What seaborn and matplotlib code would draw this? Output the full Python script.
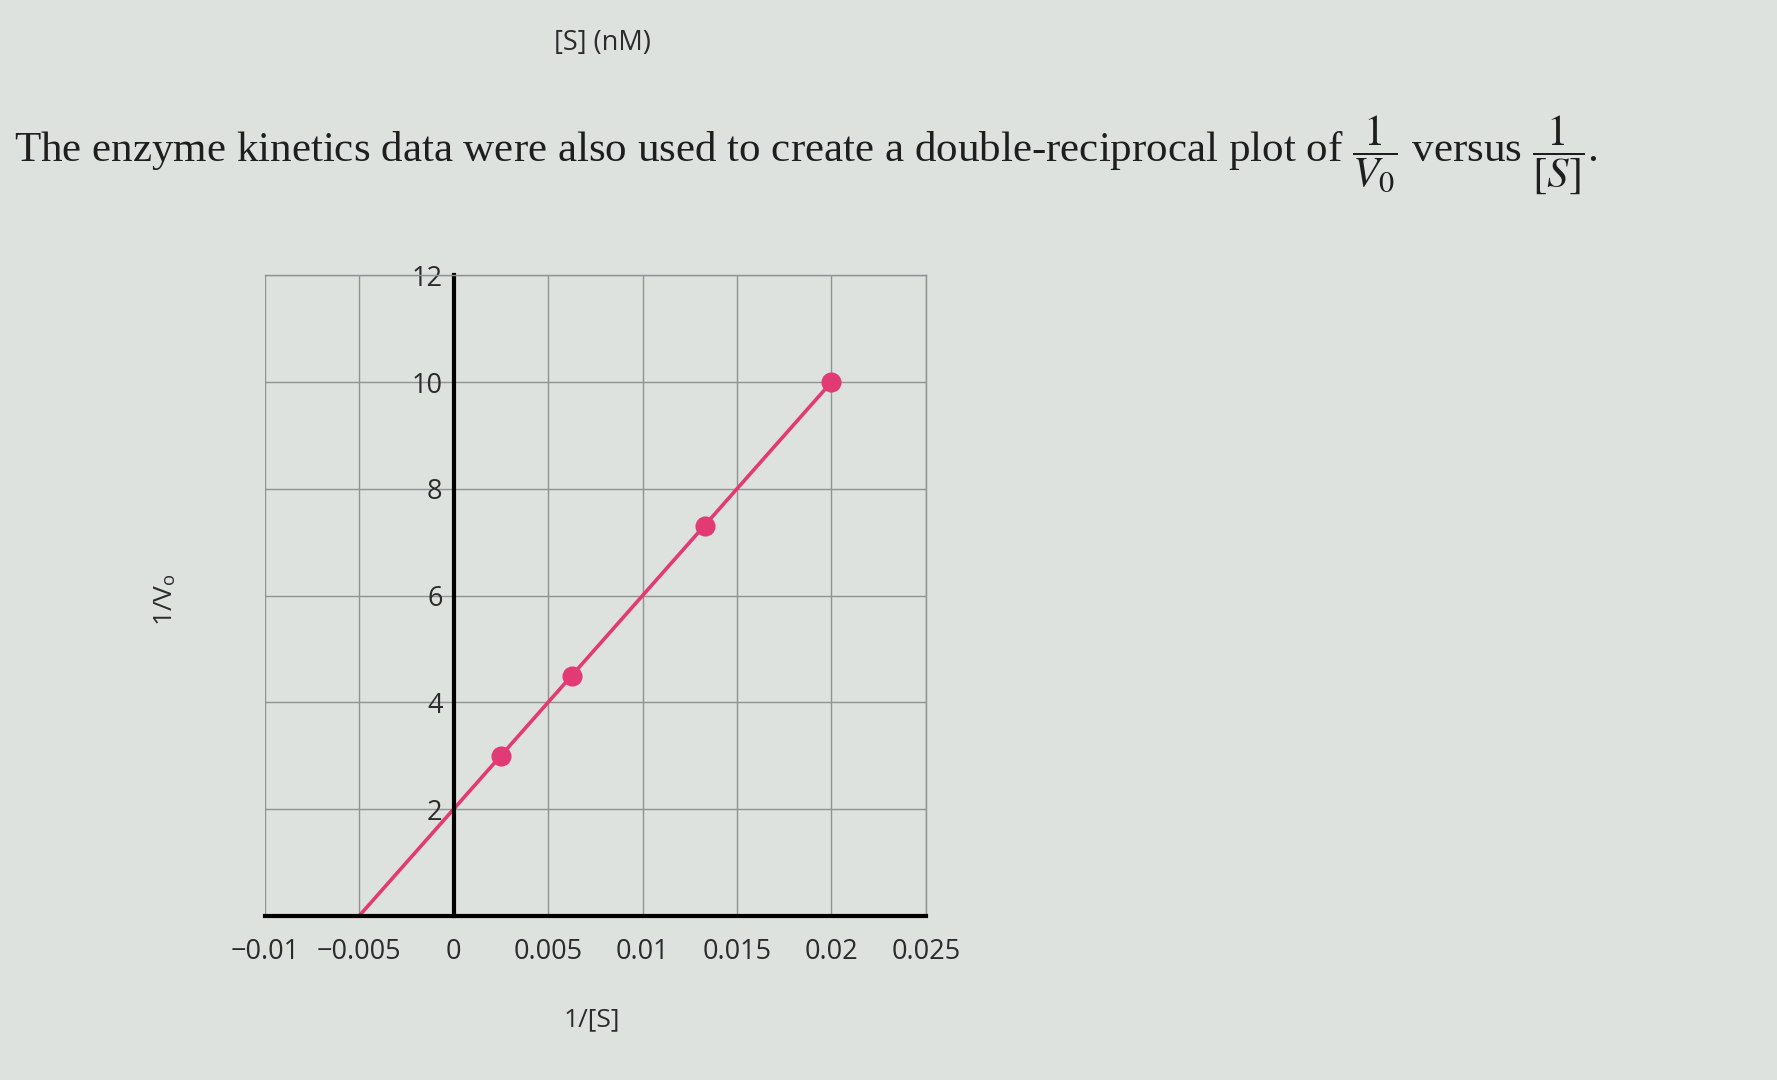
import matplotlib.pyplot as plt
import pandas as pd
import seaborn as sns

# data
inv_s = [0.0025, 0.00625, 0.0133, 0.02]
inv_v0 = [3.0, 4.5, 7.3, 10.0]
fit_x = [-0.005, 0.02]
fit_y = [0.0, 10.0]
x_ticks = [-0.01, -0.005, 0, 0.005, 0.01, 0.015, 0.02, 0.025]
x_tick_labels = ["\u22120.01", "\u22120.005", "0", "0.005", "0.01", "0.015", "0.02", "0.025"]
y_ticks = [2, 4, 6, 8, 10, 12]

bg = "#dde2df"
pink = "#e23a74"

sns.set_theme(style="white")
plt.rcParams["font.family"] = ["Open Sans", "DejaVu Sans"]
plt.rcParams["mathtext.fontset"] = "stix"

fig = plt.figure(figsize=(17.77, 10.8), dpi=100, facecolor=bg)
ax = fig.add_axes([0.149, 0.152, 0.372, 0.593])
ax.set_facecolor(bg)

pts = pd.DataFrame({"x": inv_s, "y": inv_v0})
fit = pd.DataFrame({"x": fit_x, "y": fit_y})
sns.lineplot(data=fit, x="x", y="y", ax=ax, color=pink, linewidth=2.6)
sns.scatterplot(data=pts, x="x", y="y", ax=ax, color=pink, s=180,
                edgecolor=pink, zorder=5)

ax.set_xlim(-0.01, 0.025)
ax.set_ylim(0, 12)
ax.set_xticks(x_ticks)
ax.set_xticklabels(x_tick_labels)
ax.set_yticks(y_ticks)
ax.grid(True, color="#8f9492", linewidth=1.0)
ax.tick_params(length=0, labelsize=19.5, colors="#2b2b2b")
ax.tick_params(axis="x", pad=16)
ax.tick_params(axis="y", pad=8)

ax.spines["left"].set_position(("data", 0))
ax.spines["left"].set_color("black")
ax.spines["left"].set_linewidth(3)
ax.spines["bottom"].set_color("black")
ax.spines["bottom"].set_linewidth(3)
for side in ["top", "right"]:
    ax.spines[side].set_color("#8f9492")
    ax.spines[side].set_linewidth(1.0)

ax.set_xlabel("")
ax.set_ylabel("")

fig.text(0.333, 0.05, "1/[S]", fontsize=19, ha="center", color="#2b2b2b")
fig.text(0.093, 0.445, "1/V$_\\mathregular{o}$", fontsize=19, rotation=90,
         ha="center", va="center", color="#2b2b2b")
fig.text(0.339, 0.96, "[S] (nM)", fontsize=19.5, ha="center", va="center",
         color="#2b2b2b")
fig.text(0.008, 0.857,
         "The enzyme kinetics data were also used to create a double-reciprocal "
         "plot of $\\dfrac{1}{V_0}$ versus $\\dfrac{1}{[S]}$.",
         fontsize=31, family="Liberation Serif", va="center", color="#1e1e1e")

fig.savefig("out.png", dpi=100, facecolor=bg)
